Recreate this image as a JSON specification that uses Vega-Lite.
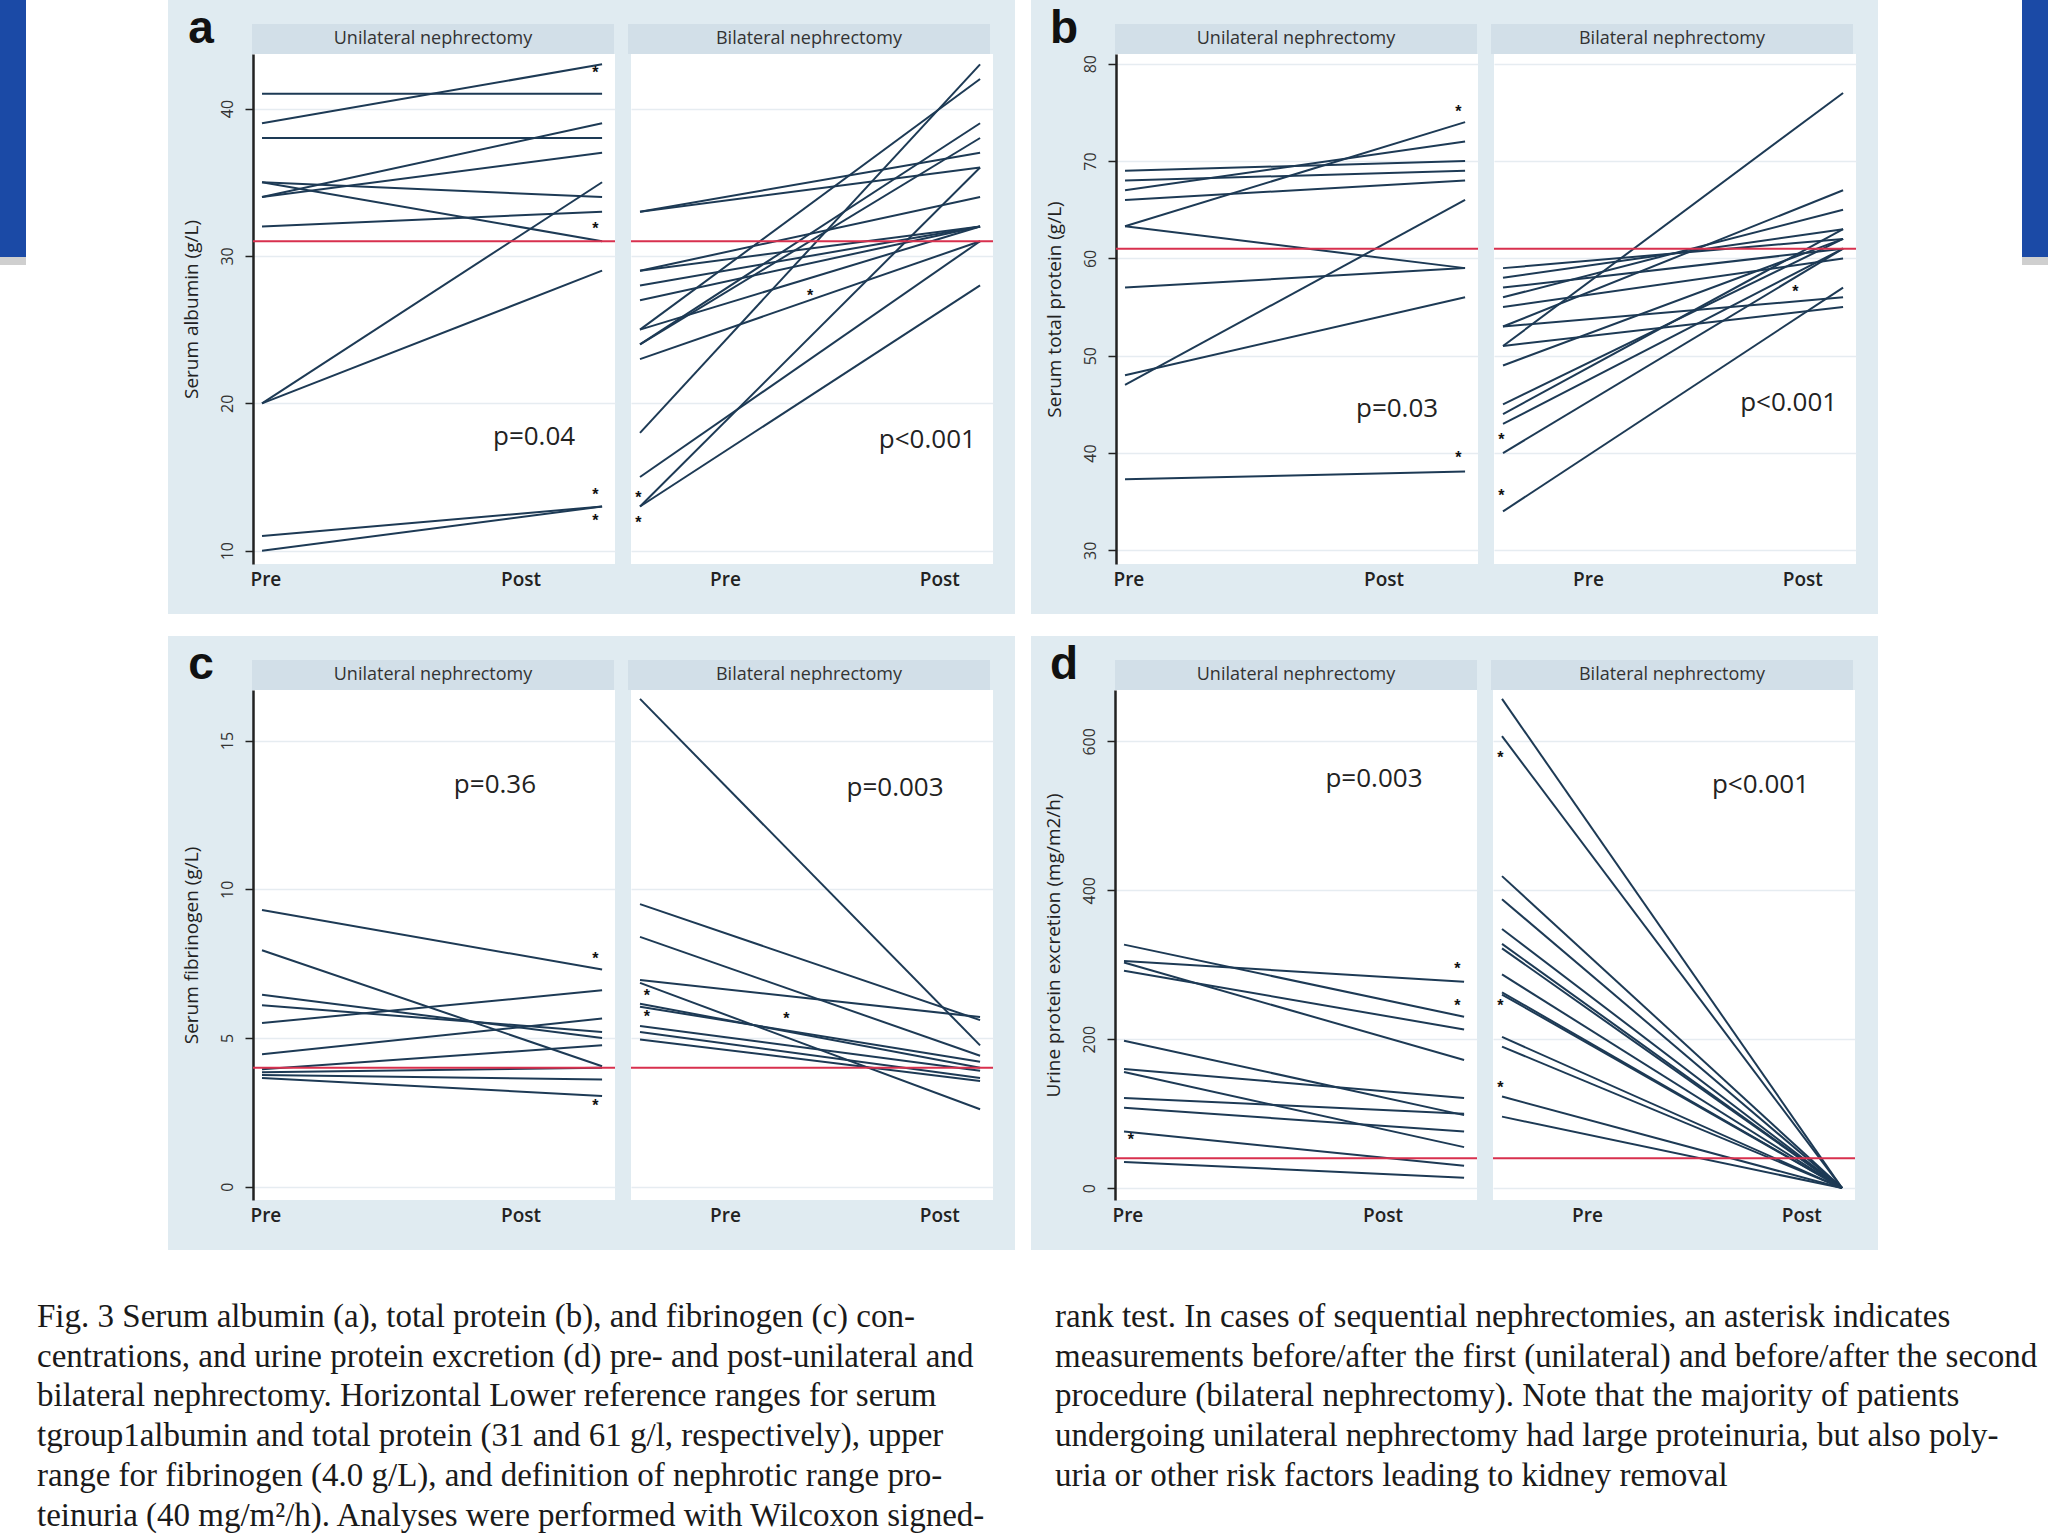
{
  "$schema": "https://vega.github.io/schema/vega-lite/v6.json",
  "background": "#e0ebf1",
  "padding": 0,
  "spacing": 0,
  "config": {
    "view": {"stroke": null},
    "axis": {"labelFont": "Open Sans", "titleFont": "Open Sans"}
  },
  "vconcat": [
    {
      "hconcat": [
        {
          "hconcat": [
            {"vconcat": [
              {"width": 26, "height": 257, "data": {"values": [{}]}, "mark": {"type": "text", "text": "", "fontSize": 1}, "view": {"fill": "#1b4aa6", "stroke": null}},
              {"width": 26, "height": 8, "data": {"values": [{}]}, "mark": {"type": "text", "text": "", "fontSize": 1}, "view": {"fill": "#cfcfcf", "stroke": null}},
              {"width": 26, "height": 985, "data": {"values": [{}]}, "mark": {"type": "text", "text": "", "fontSize": 1}, "view": {"fill": "#ffffff", "stroke": null}}
            ], "spacing": 0},
            {"width": 142, "height": 1250, "data": {"values": [{}]}, "mark": {"type": "text", "text": "", "fontSize": 1}, "view": {"fill": "#ffffff", "stroke": null}}
          ], "spacing": 0
        },
        {
          "vconcat": [
            {
              "hconcat": [
                {
                  "vconcat": [
                    {"hconcat": [
                      {"width": 84, "height": 54, "data": {"values": [{"letter": "a"}]}, "mark": {"type": "text", "font": "Liberation Sans", "fontSize": 46, "fontWeight": "bold", "color": "#111111", "align": "center", "baseline": "middle", "dx": -9, "dy": 2}, "encoding": {"text": {"field": "letter"}}},
                      {"vconcat": [
                        {"width": 763, "height": 24, "data": {"values": [{}]}, "mark": {"type": "text", "text": "", "fontSize": 1}},
                        {"hconcat": [
                          {"width": 362, "height": 30, "data": {"values": [{"label": "Unilateral nephrectomy"}]}, "mark": {"type": "text", "font": "Open Sans", "fontSize": 18, "color": "#333333", "align": "center", "baseline": "middle"}, "encoding": {"text": {"field": "label"}}, "view": {"fill": "#d2dfe8", "stroke": null}},
                          {"width": 362, "height": 30, "data": {"values": [{"label": "Bilateral nephrectomy"}]}, "mark": {"type": "text", "font": "Open Sans", "fontSize": 18, "color": "#333333", "align": "center", "baseline": "middle"}, "encoding": {"text": {"field": "label"}}, "view": {"fill": "#d2dfe8", "stroke": null}}
                        ], "spacing": 14}
                      ], "spacing": 0}
                    ], "spacing": 0},
                    {"hconcat": [
                      {"width": 13, "height": 510, "data": {"values": [{}]}, "mark": {"type": "text", "text": "", "fontSize": 1}},
                      {"hconcat": [
                        {
                          "width": 362, "height": 510,
                          "view": {"fill": "#ffffff", "stroke": null},
                          "encoding": {"y": {"field": "v", "type": "quantitative", "scale": {"domain": [9.1, 43.7], "nice": false, "zero": false},
                            "axis": {"values": [10, 20, 30, 40], "title": "Serum albumin (g/L)", "grid": true, "gridColor": "#e6ecf1", "gridWidth": 1.5, "domainColor": "#222222", "domainWidth": 2.5, "tickColor": "#222222", "tickSize": 8, "tickWidth": 1.5, "labelAngle": 270, "labelFontSize": 16, "labelColor": "#333333", "labelPadding": 10, "labelFlush": false, "titleFontSize": 19, "titleFontWeight": "normal", "titleColor": "#222222", "titlePadding": 18}}},
                          "layer": [
                            {"data": {"values": [
                              {"id": 1, "t": 0, "v": 39}, {"id": 1, "t": 1, "v": 43},
                              {"id": 2, "t": 0, "v": 41}, {"id": 2, "t": 1, "v": 41},
                              {"id": 3, "t": 0, "v": 38}, {"id": 3, "t": 1, "v": 38},
                              {"id": 4, "t": 0, "v": 35}, {"id": 4, "t": 1, "v": 34},
                              {"id": 5, "t": 0, "v": 35}, {"id": 5, "t": 1, "v": 31},
                              {"id": 6, "t": 0, "v": 34}, {"id": 6, "t": 1, "v": 39},
                              {"id": 7, "t": 0, "v": 34}, {"id": 7, "t": 1, "v": 37},
                              {"id": 8, "t": 0, "v": 32}, {"id": 8, "t": 1, "v": 33},
                              {"id": 9, "t": 0, "v": 20}, {"id": 9, "t": 1, "v": 35},
                              {"id": 10, "t": 0, "v": 20}, {"id": 10, "t": 1, "v": 29},
                              {"id": 11, "t": 0, "v": 11}, {"id": 11, "t": 1, "v": 13},
                              {"id": 12, "t": 0, "v": 10}, {"id": 12, "t": 1, "v": 13}
                            ]},
                             "mark": {"type": "line", "color": "#1d3a55", "strokeWidth": 2},
                             "encoding": {"x": {"field": "t", "type": "quantitative", "scale": {"domain": [-0.0265, 1.038], "nice": false, "zero": false}, "axis": {"values": [0.01, 0.76], "labelExpr": "datum.value < 0.5 ? 'Pre' : 'Post'", "title": null, "domain": false, "ticks": false, "grid": false, "labelFlush": false, "labelFontSize": 19, "labelFontWeight": 600, "labelColor": "#222222", "labelPadding": 6}}, "detail": {"field": "id"}}},
                            {"data": {"values": [{"v": 31}]}, "mark": {"type": "rule", "color": "#d8304e", "strokeWidth": 2}, "encoding": {}},
                            {"data": {"values": [{"t": 0.98, "v": 42.4}, {"t": 0.98, "v": 31.8}, {"t": 0.98, "v": 13.8}, {"t": 0.98, "v": 12.0}]},
                             "mark": {"type": "text", "text": "*", "fontSize": 16, "fontWeight": "bold", "color": "#111111", "baseline": "middle"},
                             "encoding": {"x": {"field": "t", "type": "quantitative", "scale": {"domain": [-0.0265, 1.038], "nice": false, "zero": false}, "axis": {"values": [0.01, 0.76], "labelExpr": "datum.value < 0.5 ? 'Pre' : 'Post'", "title": null, "domain": false, "ticks": false, "grid": false, "labelFlush": false, "labelFontSize": 19, "labelFontWeight": 600, "labelColor": "#222222", "labelPadding": 6}}}},
                            {"data": {"values": [{"t": 0.8, "v": 17.7, "label": "p=0.04"}]},
                             "mark": {"type": "text", "font": "Open Sans", "fontSize": 26, "color": "#222222", "baseline": "middle"},
                             "encoding": {"x": {"field": "t", "type": "quantitative", "scale": {"domain": [-0.0265, 1.038], "nice": false, "zero": false}, "axis": {"values": [0.01, 0.76], "labelExpr": "datum.value < 0.5 ? 'Pre' : 'Post'", "title": null, "domain": false, "ticks": false, "grid": false, "labelFlush": false, "labelFontSize": 19, "labelFontWeight": 600, "labelColor": "#222222", "labelPadding": 6}}, "text": {"field": "label"}}}
                          ]
                        },
                        {
                          "width": 362, "height": 510,
                          "view": {"fill": "#ffffff", "stroke": null},
                          "encoding": {"y": {"field": "v", "type": "quantitative", "scale": {"domain": [9.1, 43.7], "nice": false, "zero": false},
                            "axis": {"values": [10, 20, 30, 40], "title": null, "grid": true, "gridColor": "#e6ecf1", "gridWidth": 1.5, "domain": false, "ticks": false, "labels": false}}},
                          "layer": [
                            {"data": {"values": [
                              {"id": 1, "t": 0, "v": 33}, {"id": 1, "t": 1, "v": 37},
                              {"id": 2, "t": 0, "v": 33}, {"id": 2, "t": 1, "v": 36},
                              {"id": 3, "t": 0, "v": 29}, {"id": 3, "t": 1, "v": 34},
                              {"id": 4, "t": 0, "v": 29}, {"id": 4, "t": 1, "v": 32},
                              {"id": 5, "t": 0, "v": 28}, {"id": 5, "t": 1, "v": 32},
                              {"id": 6, "t": 0, "v": 27}, {"id": 6, "t": 1, "v": 32},
                              {"id": 7, "t": 0, "v": 25}, {"id": 7, "t": 1, "v": 42},
                              {"id": 8, "t": 0, "v": 25}, {"id": 8, "t": 1, "v": 32},
                              {"id": 9, "t": 0, "v": 24}, {"id": 9, "t": 1, "v": 39},
                              {"id": 10, "t": 0, "v": 24}, {"id": 10, "t": 1, "v": 38},
                              {"id": 11, "t": 0, "v": 23}, {"id": 11, "t": 1, "v": 31},
                              {"id": 12, "t": 0, "v": 18}, {"id": 12, "t": 1, "v": 43},
                              {"id": 13, "t": 0, "v": 15}, {"id": 13, "t": 1, "v": 31},
                              {"id": 14, "t": 0, "v": 13}, {"id": 14, "t": 1, "v": 36},
                              {"id": 15, "t": 0, "v": 13}, {"id": 15, "t": 1, "v": 28}
                            ]},
                             "mark": {"type": "line", "color": "#1d3a55", "strokeWidth": 2},
                             "encoding": {"x": {"field": "t", "type": "quantitative", "scale": {"domain": [-0.0265, 1.038], "nice": false, "zero": false}, "axis": {"values": [0.25, 0.88], "labelExpr": "datum.value < 0.5 ? 'Pre' : 'Post'", "title": null, "domain": false, "ticks": false, "grid": false, "labelFlush": false, "labelFontSize": 19, "labelFontWeight": 600, "labelColor": "#222222", "labelPadding": 6}}, "detail": {"field": "id"}}},
                            {"data": {"values": [{"v": 31}]}, "mark": {"type": "rule", "color": "#d8304e", "strokeWidth": 2}, "encoding": {}},
                            {"data": {"values": [{"t": -0.005, "v": 13.6}, {"t": -0.005, "v": 11.9}, {"t": 0.5, "v": 27.3}]},
                             "mark": {"type": "text", "text": "*", "fontSize": 16, "fontWeight": "bold", "color": "#111111", "baseline": "middle"},
                             "encoding": {"x": {"field": "t", "type": "quantitative", "scale": {"domain": [-0.0265, 1.038], "nice": false, "zero": false}, "axis": {"values": [0.25, 0.88], "labelExpr": "datum.value < 0.5 ? 'Pre' : 'Post'", "title": null, "domain": false, "ticks": false, "grid": false, "labelFlush": false, "labelFontSize": 19, "labelFontWeight": 600, "labelColor": "#222222", "labelPadding": 6}}}},
                            {"data": {"values": [{"t": 0.845, "v": 17.5, "label": "p<0.001"}]},
                             "mark": {"type": "text", "font": "Open Sans", "fontSize": 26, "color": "#222222", "baseline": "middle"},
                             "encoding": {"x": {"field": "t", "type": "quantitative", "scale": {"domain": [-0.0265, 1.038], "nice": false, "zero": false}, "axis": {"values": [0.25, 0.88], "labelExpr": "datum.value < 0.5 ? 'Pre' : 'Post'", "title": null, "domain": false, "ticks": false, "grid": false, "labelFlush": false, "labelFontSize": 19, "labelFontWeight": 600, "labelColor": "#222222", "labelPadding": 6}}, "text": {"field": "label"}}}
                          ]
                        }
                      ], "spacing": 14}
                    ], "spacing": 0}
                  ], "spacing": 0
                },
                {"width": 16, "height": 614, "data": {"values": [{}]}, "mark": {"type": "text", "text": "", "fontSize": 1}, "view": {"fill": "#ffffff", "stroke": null}},
                {
                  "vconcat": [
                    {"hconcat": [
                      {"width": 84, "height": 54, "data": {"values": [{"letter": "b"}]}, "mark": {"type": "text", "font": "Liberation Sans", "fontSize": 46, "fontWeight": "bold", "color": "#111111", "align": "center", "baseline": "middle", "dx": -9, "dy": 2}, "encoding": {"text": {"field": "letter"}}},
                      {"vconcat": [
                        {"width": 763, "height": 24, "data": {"values": [{}]}, "mark": {"type": "text", "text": "", "fontSize": 1}},
                        {"hconcat": [
                          {"width": 362, "height": 30, "data": {"values": [{"label": "Unilateral nephrectomy"}]}, "mark": {"type": "text", "font": "Open Sans", "fontSize": 18, "color": "#333333", "align": "center", "baseline": "middle"}, "encoding": {"text": {"field": "label"}}, "view": {"fill": "#d2dfe8", "stroke": null}},
                          {"width": 362, "height": 30, "data": {"values": [{"label": "Bilateral nephrectomy"}]}, "mark": {"type": "text", "font": "Open Sans", "fontSize": 18, "color": "#333333", "align": "center", "baseline": "middle"}, "encoding": {"text": {"field": "label"}}, "view": {"fill": "#d2dfe8", "stroke": null}}
                        ], "spacing": 14}
                      ], "spacing": 0}
                    ], "spacing": 0},
                    {"hconcat": [
                      {"width": 13, "height": 510, "data": {"values": [{}]}, "mark": {"type": "text", "text": "", "fontSize": 1}},
                      {"hconcat": [
                        {
                          "width": 362, "height": 510,
                          "view": {"fill": "#ffffff", "stroke": null},
                          "encoding": {"y": {"field": "v", "type": "quantitative", "scale": {"domain": [28.6, 81.0], "nice": false, "zero": false},
                            "axis": {"values": [30, 40, 50, 60, 70, 80], "title": "Serum total protein (g/L)", "grid": true, "gridColor": "#e6ecf1", "gridWidth": 1.5, "domainColor": "#222222", "domainWidth": 2.5, "tickColor": "#222222", "tickSize": 8, "tickWidth": 1.5, "labelAngle": 270, "labelFontSize": 16, "labelColor": "#333333", "labelPadding": 10, "labelFlush": false, "titleFontSize": 19, "titleFontWeight": "normal", "titleColor": "#222222", "titlePadding": 18}}},
                          "layer": [
                            {"data": {"values": [
                              {"id": 1, "t": 0, "v": 69}, {"id": 1, "t": 1, "v": 70},
                              {"id": 2, "t": 0, "v": 68}, {"id": 2, "t": 1, "v": 69},
                              {"id": 3, "t": 0, "v": 67}, {"id": 3, "t": 1, "v": 72},
                              {"id": 4, "t": 0, "v": 66}, {"id": 4, "t": 1, "v": 68},
                              {"id": 5, "t": 0, "v": 63.3}, {"id": 5, "t": 1, "v": 74},
                              {"id": 6, "t": 0, "v": 63.3}, {"id": 6, "t": 1, "v": 59},
                              {"id": 7, "t": 0, "v": 57}, {"id": 7, "t": 1, "v": 59},
                              {"id": 8, "t": 0, "v": 48}, {"id": 8, "t": 1, "v": 56},
                              {"id": 9, "t": 0, "v": 47}, {"id": 9, "t": 1, "v": 66},
                              {"id": 10, "t": 0, "v": 37.3}, {"id": 10, "t": 1, "v": 38.1}
                            ]},
                             "mark": {"type": "line", "color": "#1d3a55", "strokeWidth": 2},
                             "encoding": {"x": {"field": "t", "type": "quantitative", "scale": {"domain": [-0.0265, 1.038], "nice": false, "zero": false}, "axis": {"values": [0.01, 0.76], "labelExpr": "datum.value < 0.5 ? 'Pre' : 'Post'", "title": null, "domain": false, "ticks": false, "grid": false, "labelFlush": false, "labelFontSize": 19, "labelFontWeight": 600, "labelColor": "#222222", "labelPadding": 6}}, "detail": {"field": "id"}}},
                            {"data": {"values": [{"v": 61}]}, "mark": {"type": "rule", "color": "#d8304e", "strokeWidth": 2}, "encoding": {}},
                            {"data": {"values": [{"t": 0.98, "v": 75.0}, {"t": 0.98, "v": 39.5}]},
                             "mark": {"type": "text", "text": "*", "fontSize": 16, "fontWeight": "bold", "color": "#111111", "baseline": "middle"},
                             "encoding": {"x": {"field": "t", "type": "quantitative", "scale": {"domain": [-0.0265, 1.038], "nice": false, "zero": false}, "axis": {"values": [0.01, 0.76], "labelExpr": "datum.value < 0.5 ? 'Pre' : 'Post'", "title": null, "domain": false, "ticks": false, "grid": false, "labelFlush": false, "labelFontSize": 19, "labelFontWeight": 600, "labelColor": "#222222", "labelPadding": 6}}}},
                            {"data": {"values": [{"t": 0.8, "v": 44.5, "label": "p=0.03"}]},
                             "mark": {"type": "text", "font": "Open Sans", "fontSize": 26, "color": "#222222", "baseline": "middle"},
                             "encoding": {"x": {"field": "t", "type": "quantitative", "scale": {"domain": [-0.0265, 1.038], "nice": false, "zero": false}, "axis": {"values": [0.01, 0.76], "labelExpr": "datum.value < 0.5 ? 'Pre' : 'Post'", "title": null, "domain": false, "ticks": false, "grid": false, "labelFlush": false, "labelFontSize": 19, "labelFontWeight": 600, "labelColor": "#222222", "labelPadding": 6}}, "text": {"field": "label"}}}
                          ]
                        },
                        {
                          "width": 362, "height": 510,
                          "view": {"fill": "#ffffff", "stroke": null},
                          "encoding": {"y": {"field": "v", "type": "quantitative", "scale": {"domain": [28.6, 81.0], "nice": false, "zero": false},
                            "axis": {"values": [30, 40, 50, 60, 70, 80], "title": null, "grid": true, "gridColor": "#e6ecf1", "gridWidth": 1.5, "domain": false, "ticks": false, "labels": false}}},
                          "layer": [
                            {"data": {"values": [
                              {"id": 1, "t": 0, "v": 59}, {"id": 1, "t": 1, "v": 62},
                              {"id": 2, "t": 0, "v": 58}, {"id": 2, "t": 1, "v": 63},
                              {"id": 3, "t": 0, "v": 57}, {"id": 3, "t": 1, "v": 61},
                              {"id": 4, "t": 0, "v": 56}, {"id": 4, "t": 1, "v": 65},
                              {"id": 5, "t": 0, "v": 55}, {"id": 5, "t": 1, "v": 60},
                              {"id": 6, "t": 0, "v": 53}, {"id": 6, "t": 1, "v": 56},
                              {"id": 7, "t": 0, "v": 53}, {"id": 7, "t": 1, "v": 67},
                              {"id": 8, "t": 0, "v": 51}, {"id": 8, "t": 1, "v": 77},
                              {"id": 9, "t": 0, "v": 51}, {"id": 9, "t": 1, "v": 55},
                              {"id": 10, "t": 0, "v": 49}, {"id": 10, "t": 1, "v": 62},
                              {"id": 11, "t": 0, "v": 45}, {"id": 11, "t": 1, "v": 62},
                              {"id": 12, "t": 0, "v": 44}, {"id": 12, "t": 1, "v": 63},
                              {"id": 13, "t": 0, "v": 43}, {"id": 13, "t": 1, "v": 61},
                              {"id": 14, "t": 0, "v": 40}, {"id": 14, "t": 1, "v": 61},
                              {"id": 15, "t": 0, "v": 34}, {"id": 15, "t": 1, "v": 57}
                            ]},
                             "mark": {"type": "line", "color": "#1d3a55", "strokeWidth": 2},
                             "encoding": {"x": {"field": "t", "type": "quantitative", "scale": {"domain": [-0.0265, 1.038], "nice": false, "zero": false}, "axis": {"values": [0.25, 0.88], "labelExpr": "datum.value < 0.5 ? 'Pre' : 'Post'", "title": null, "domain": false, "ticks": false, "grid": false, "labelFlush": false, "labelFontSize": 19, "labelFontWeight": 600, "labelColor": "#222222", "labelPadding": 6}}, "detail": {"field": "id"}}},
                            {"data": {"values": [{"v": 61}]}, "mark": {"type": "rule", "color": "#d8304e", "strokeWidth": 2}, "encoding": {}},
                            {"data": {"values": [{"t": -0.005, "v": 41.3}, {"t": -0.005, "v": 35.6}, {"t": 0.86, "v": 56.5}]},
                             "mark": {"type": "text", "text": "*", "fontSize": 16, "fontWeight": "bold", "color": "#111111", "baseline": "middle"},
                             "encoding": {"x": {"field": "t", "type": "quantitative", "scale": {"domain": [-0.0265, 1.038], "nice": false, "zero": false}, "axis": {"values": [0.25, 0.88], "labelExpr": "datum.value < 0.5 ? 'Pre' : 'Post'", "title": null, "domain": false, "ticks": false, "grid": false, "labelFlush": false, "labelFontSize": 19, "labelFontWeight": 600, "labelColor": "#222222", "labelPadding": 6}}}},
                            {"data": {"values": [{"t": 0.84, "v": 45.1, "label": "p<0.001"}]},
                             "mark": {"type": "text", "font": "Open Sans", "fontSize": 26, "color": "#222222", "baseline": "middle"},
                             "encoding": {"x": {"field": "t", "type": "quantitative", "scale": {"domain": [-0.0265, 1.038], "nice": false, "zero": false}, "axis": {"values": [0.25, 0.88], "labelExpr": "datum.value < 0.5 ? 'Pre' : 'Post'", "title": null, "domain": false, "ticks": false, "grid": false, "labelFlush": false, "labelFontSize": 19, "labelFontWeight": 600, "labelColor": "#222222", "labelPadding": 6}}, "text": {"field": "label"}}}
                          ]
                        }
                      ], "spacing": 14}
                    ], "spacing": 0}
                  ], "spacing": 0
                }
              ], "spacing": 0
            },
            {"width": 1710, "height": 22, "data": {"values": [{}]}, "mark": {"type": "text", "text": "", "fontSize": 1}, "view": {"fill": "#ffffff", "stroke": null}},
            {
              "hconcat": [
                {
                  "vconcat": [
                    {"hconcat": [
                      {"width": 84, "height": 54, "data": {"values": [{"letter": "c"}]}, "mark": {"type": "text", "font": "Liberation Sans", "fontSize": 46, "fontWeight": "bold", "color": "#111111", "align": "center", "baseline": "middle", "dx": -9, "dy": 2}, "encoding": {"text": {"field": "letter"}}},
                      {"vconcat": [
                        {"width": 763, "height": 24, "data": {"values": [{}]}, "mark": {"type": "text", "text": "", "fontSize": 1}},
                        {"hconcat": [
                          {"width": 362, "height": 30, "data": {"values": [{"label": "Unilateral nephrectomy"}]}, "mark": {"type": "text", "font": "Open Sans", "fontSize": 18, "color": "#333333", "align": "center", "baseline": "middle"}, "encoding": {"text": {"field": "label"}}, "view": {"fill": "#d2dfe8", "stroke": null}},
                          {"width": 362, "height": 30, "data": {"values": [{"label": "Bilateral nephrectomy"}]}, "mark": {"type": "text", "font": "Open Sans", "fontSize": 18, "color": "#333333", "align": "center", "baseline": "middle"}, "encoding": {"text": {"field": "label"}}, "view": {"fill": "#d2dfe8", "stroke": null}}
                        ], "spacing": 14}
                      ], "spacing": 0}
                    ], "spacing": 0},
                    {"hconcat": [
                      {"width": 13, "height": 510, "data": {"values": [{}]}, "mark": {"type": "text", "text": "", "fontSize": 1}},
                      {"hconcat": [
                        {
                          "width": 362, "height": 510,
                          "view": {"fill": "#ffffff", "stroke": null},
                          "encoding": {"y": {"field": "v", "type": "quantitative", "scale": {"domain": [-0.45, 16.7], "nice": false, "zero": false},
                            "axis": {"values": [0, 5, 10, 15], "title": "Serum fibrinogen (g/L)", "grid": true, "gridColor": "#e6ecf1", "gridWidth": 1.5, "domainColor": "#222222", "domainWidth": 2.5, "tickColor": "#222222", "tickSize": 8, "tickWidth": 1.5, "labelAngle": 270, "labelFontSize": 16, "labelColor": "#333333", "labelPadding": 10, "labelFlush": false, "titleFontSize": 19, "titleFontWeight": "normal", "titleColor": "#222222", "titlePadding": 18}}},
                          "layer": [
                            {"data": {"values": [
                              {"id": 1, "t": 0, "v": 9.3}, {"id": 1, "t": 1, "v": 7.3},
                              {"id": 2, "t": 0, "v": 7.95}, {"id": 2, "t": 1, "v": 4.05},
                              {"id": 3, "t": 0, "v": 6.45}, {"id": 3, "t": 1, "v": 5.0},
                              {"id": 4, "t": 0, "v": 6.1}, {"id": 4, "t": 1, "v": 5.2},
                              {"id": 5, "t": 0, "v": 5.5}, {"id": 5, "t": 1, "v": 6.6},
                              {"id": 6, "t": 0, "v": 4.45}, {"id": 6, "t": 1, "v": 5.65},
                              {"id": 7, "t": 0, "v": 3.95}, {"id": 7, "t": 1, "v": 4.75},
                              {"id": 8, "t": 0, "v": 3.85}, {"id": 8, "t": 1, "v": 4.0},
                              {"id": 9, "t": 0, "v": 3.75}, {"id": 9, "t": 1, "v": 3.6},
                              {"id": 10, "t": 0, "v": 3.65}, {"id": 10, "t": 1, "v": 3.05}
                            ]},
                             "mark": {"type": "line", "color": "#1d3a55", "strokeWidth": 2},
                             "encoding": {"x": {"field": "t", "type": "quantitative", "scale": {"domain": [-0.0265, 1.038], "nice": false, "zero": false}, "axis": {"values": [0.01, 0.76], "labelExpr": "datum.value < 0.5 ? 'Pre' : 'Post'", "title": null, "domain": false, "ticks": false, "grid": false, "labelFlush": false, "labelFontSize": 19, "labelFontWeight": 600, "labelColor": "#222222", "labelPadding": 6}}, "detail": {"field": "id"}}},
                            {"data": {"values": [{"v": 4}]}, "mark": {"type": "rule", "color": "#d8304e", "strokeWidth": 2}, "encoding": {}},
                            {"data": {"values": [{"t": 0.98, "v": 7.65}, {"t": 0.98, "v": 2.7}]},
                             "mark": {"type": "text", "text": "*", "fontSize": 16, "fontWeight": "bold", "color": "#111111", "baseline": "middle"},
                             "encoding": {"x": {"field": "t", "type": "quantitative", "scale": {"domain": [-0.0265, 1.038], "nice": false, "zero": false}, "axis": {"values": [0.01, 0.76], "labelExpr": "datum.value < 0.5 ? 'Pre' : 'Post'", "title": null, "domain": false, "ticks": false, "grid": false, "labelFlush": false, "labelFontSize": 19, "labelFontWeight": 600, "labelColor": "#222222", "labelPadding": 6}}}},
                            {"data": {"values": [{"t": 0.685, "v": 13.5, "label": "p=0.36"}]},
                             "mark": {"type": "text", "font": "Open Sans", "fontSize": 26, "color": "#222222", "baseline": "middle"},
                             "encoding": {"x": {"field": "t", "type": "quantitative", "scale": {"domain": [-0.0265, 1.038], "nice": false, "zero": false}, "axis": {"values": [0.01, 0.76], "labelExpr": "datum.value < 0.5 ? 'Pre' : 'Post'", "title": null, "domain": false, "ticks": false, "grid": false, "labelFlush": false, "labelFontSize": 19, "labelFontWeight": 600, "labelColor": "#222222", "labelPadding": 6}}, "text": {"field": "label"}}}
                          ]
                        },
                        {
                          "width": 362, "height": 510,
                          "view": {"fill": "#ffffff", "stroke": null},
                          "encoding": {"y": {"field": "v", "type": "quantitative", "scale": {"domain": [-0.45, 16.7], "nice": false, "zero": false},
                            "axis": {"values": [0, 5, 10, 15], "title": null, "grid": true, "gridColor": "#e6ecf1", "gridWidth": 1.5, "domain": false, "ticks": false, "labels": false}}},
                          "layer": [
                            {"data": {"values": [
                              {"id": 1, "t": 0, "v": 16.4}, {"id": 1, "t": 1, "v": 4.75},
                              {"id": 2, "t": 0, "v": 9.5}, {"id": 2, "t": 1, "v": 5.6},
                              {"id": 3, "t": 0, "v": 8.4}, {"id": 3, "t": 1, "v": 4.4},
                              {"id": 4, "t": 0, "v": 6.95}, {"id": 4, "t": 1, "v": 5.7},
                              {"id": 5, "t": 0, "v": 6.85}, {"id": 5, "t": 1, "v": 2.6},
                              {"id": 6, "t": 0, "v": 6.15}, {"id": 6, "t": 1, "v": 4.0},
                              {"id": 7, "t": 0, "v": 6.05}, {"id": 7, "t": 1, "v": 4.2},
                              {"id": 8, "t": 0, "v": 5.4}, {"id": 8, "t": 1, "v": 3.9},
                              {"id": 9, "t": 0, "v": 5.2}, {"id": 9, "t": 1, "v": 3.65},
                              {"id": 10, "t": 0, "v": 4.95}, {"id": 10, "t": 1, "v": 3.55}
                            ]},
                             "mark": {"type": "line", "color": "#1d3a55", "strokeWidth": 2},
                             "encoding": {"x": {"field": "t", "type": "quantitative", "scale": {"domain": [-0.0265, 1.038], "nice": false, "zero": false}, "axis": {"values": [0.25, 0.88], "labelExpr": "datum.value < 0.5 ? 'Pre' : 'Post'", "title": null, "domain": false, "ticks": false, "grid": false, "labelFlush": false, "labelFontSize": 19, "labelFontWeight": 600, "labelColor": "#222222", "labelPadding": 6}}, "detail": {"field": "id"}}},
                            {"data": {"values": [{"v": 4}]}, "mark": {"type": "rule", "color": "#d8304e", "strokeWidth": 2}, "encoding": {}},
                            {"data": {"values": [{"t": 0.02, "v": 6.4}, {"t": 0.02, "v": 5.7}, {"t": 0.43, "v": 5.65}]},
                             "mark": {"type": "text", "text": "*", "fontSize": 16, "fontWeight": "bold", "color": "#111111", "baseline": "middle"},
                             "encoding": {"x": {"field": "t", "type": "quantitative", "scale": {"domain": [-0.0265, 1.038], "nice": false, "zero": false}, "axis": {"values": [0.25, 0.88], "labelExpr": "datum.value < 0.5 ? 'Pre' : 'Post'", "title": null, "domain": false, "ticks": false, "grid": false, "labelFlush": false, "labelFontSize": 19, "labelFontWeight": 600, "labelColor": "#222222", "labelPadding": 6}}}},
                            {"data": {"values": [{"t": 0.75, "v": 13.4, "label": "p=0.003"}]},
                             "mark": {"type": "text", "font": "Open Sans", "fontSize": 26, "color": "#222222", "baseline": "middle"},
                             "encoding": {"x": {"field": "t", "type": "quantitative", "scale": {"domain": [-0.0265, 1.038], "nice": false, "zero": false}, "axis": {"values": [0.25, 0.88], "labelExpr": "datum.value < 0.5 ? 'Pre' : 'Post'", "title": null, "domain": false, "ticks": false, "grid": false, "labelFlush": false, "labelFontSize": 19, "labelFontWeight": 600, "labelColor": "#222222", "labelPadding": 6}}, "text": {"field": "label"}}}
                          ]
                        }
                      ], "spacing": 14}
                    ], "spacing": 0}
                  ], "spacing": 0
                },
                {"width": 16, "height": 614, "data": {"values": [{}]}, "mark": {"type": "text", "text": "", "fontSize": 1}, "view": {"fill": "#ffffff", "stroke": null}},
                {
                  "vconcat": [
                    {"hconcat": [
                      {"width": 84, "height": 54, "data": {"values": [{"letter": "d"}]}, "mark": {"type": "text", "font": "Liberation Sans", "fontSize": 46, "fontWeight": "bold", "color": "#111111", "align": "center", "baseline": "middle", "dx": -9, "dy": 2}, "encoding": {"text": {"field": "letter"}}},
                      {"vconcat": [
                        {"width": 763, "height": 24, "data": {"values": [{}]}, "mark": {"type": "text", "text": "", "fontSize": 1}},
                        {"hconcat": [
                          {"width": 362, "height": 30, "data": {"values": [{"label": "Unilateral nephrectomy"}]}, "mark": {"type": "text", "font": "Open Sans", "fontSize": 18, "color": "#333333", "align": "center", "baseline": "middle"}, "encoding": {"text": {"field": "label"}}, "view": {"fill": "#d2dfe8", "stroke": null}},
                          {"width": 362, "height": 30, "data": {"values": [{"label": "Bilateral nephrectomy"}]}, "mark": {"type": "text", "font": "Open Sans", "fontSize": 18, "color": "#333333", "align": "center", "baseline": "middle"}, "encoding": {"text": {"field": "label"}}, "view": {"fill": "#d2dfe8", "stroke": null}}
                        ], "spacing": 14}
                      ], "spacing": 0}
                    ], "spacing": 0},
                    {"hconcat": [
                      {"width": 13, "height": 510, "data": {"values": [{}]}, "mark": {"type": "text", "text": "", "fontSize": 1}},
                      {"hconcat": [
                        {
                          "width": 362, "height": 510,
                          "view": {"fill": "#ffffff", "stroke": null},
                          "encoding": {"y": {"field": "v", "type": "quantitative", "scale": {"domain": [-16, 669], "nice": false, "zero": false},
                            "axis": {"values": [0, 200, 400, 600], "title": "Urine protein excretion (mg/m2/h)", "grid": true, "gridColor": "#e6ecf1", "gridWidth": 1.5, "domainColor": "#222222", "domainWidth": 2.5, "tickColor": "#222222", "tickSize": 8, "tickWidth": 1.5, "labelAngle": 270, "labelFontSize": 16, "labelColor": "#333333", "labelPadding": 10, "labelFlush": false, "titleFontSize": 19, "titleFontWeight": "normal", "titleColor": "#222222", "titlePadding": 18}}},
                          "layer": [
                            {"data": {"values": [
                              {"id": 1, "t": 0, "v": 327}, {"id": 1, "t": 1, "v": 230},
                              {"id": 2, "t": 0, "v": 305}, {"id": 2, "t": 1, "v": 277},
                              {"id": 3, "t": 0, "v": 303}, {"id": 3, "t": 1, "v": 172},
                              {"id": 4, "t": 0, "v": 292}, {"id": 4, "t": 1, "v": 213},
                              {"id": 5, "t": 0, "v": 198}, {"id": 5, "t": 1, "v": 98},
                              {"id": 6, "t": 0, "v": 160}, {"id": 6, "t": 1, "v": 121},
                              {"id": 7, "t": 0, "v": 156}, {"id": 7, "t": 1, "v": 55},
                              {"id": 8, "t": 0, "v": 121}, {"id": 8, "t": 1, "v": 100},
                              {"id": 9, "t": 0, "v": 108}, {"id": 9, "t": 1, "v": 76},
                              {"id": 10, "t": 0, "v": 76}, {"id": 10, "t": 1, "v": 30},
                              {"id": 11, "t": 0, "v": 35}, {"id": 11, "t": 1, "v": 14}
                            ]},
                             "mark": {"type": "line", "color": "#1d3a55", "strokeWidth": 2},
                             "encoding": {"x": {"field": "t", "type": "quantitative", "scale": {"domain": [-0.0265, 1.038], "nice": false, "zero": false}, "axis": {"values": [0.01, 0.76], "labelExpr": "datum.value < 0.5 ? 'Pre' : 'Post'", "title": null, "domain": false, "ticks": false, "grid": false, "labelFlush": false, "labelFontSize": 19, "labelFontWeight": 600, "labelColor": "#222222", "labelPadding": 6}}, "detail": {"field": "id"}}},
                            {"data": {"values": [{"v": 40}]}, "mark": {"type": "rule", "color": "#d8304e", "strokeWidth": 2}, "encoding": {}},
                            {"data": {"values": [{"t": 0.98, "v": 294}, {"t": 0.98, "v": 245}, {"t": 0.02, "v": 64}]},
                             "mark": {"type": "text", "text": "*", "fontSize": 16, "fontWeight": "bold", "color": "#111111", "baseline": "middle"},
                             "encoding": {"x": {"field": "t", "type": "quantitative", "scale": {"domain": [-0.0265, 1.038], "nice": false, "zero": false}, "axis": {"values": [0.01, 0.76], "labelExpr": "datum.value < 0.5 ? 'Pre' : 'Post'", "title": null, "domain": false, "ticks": false, "grid": false, "labelFlush": false, "labelFontSize": 19, "labelFontWeight": 600, "labelColor": "#222222", "labelPadding": 6}}}},
                            {"data": {"values": [{"t": 0.735, "v": 550, "label": "p=0.003"}]},
                             "mark": {"type": "text", "font": "Open Sans", "fontSize": 26, "color": "#222222", "baseline": "middle"},
                             "encoding": {"x": {"field": "t", "type": "quantitative", "scale": {"domain": [-0.0265, 1.038], "nice": false, "zero": false}, "axis": {"values": [0.01, 0.76], "labelExpr": "datum.value < 0.5 ? 'Pre' : 'Post'", "title": null, "domain": false, "ticks": false, "grid": false, "labelFlush": false, "labelFontSize": 19, "labelFontWeight": 600, "labelColor": "#222222", "labelPadding": 6}}, "text": {"field": "label"}}}
                          ]
                        },
                        {
                          "width": 362, "height": 510,
                          "view": {"fill": "#ffffff", "stroke": null},
                          "encoding": {"y": {"field": "v", "type": "quantitative", "scale": {"domain": [-16, 669], "nice": false, "zero": false},
                            "axis": {"values": [0, 200, 400, 600], "title": null, "grid": true, "gridColor": "#e6ecf1", "gridWidth": 1.5, "domain": false, "ticks": false, "labels": false}}},
                          "layer": [
                            {"data": {"values": [
                              {"id": 1, "t": 0, "v": 657}, {"id": 1, "t": 1, "v": 0},
                              {"id": 2, "t": 0, "v": 607}, {"id": 2, "t": 1, "v": 0},
                              {"id": 3, "t": 0, "v": 419}, {"id": 3, "t": 1, "v": 0},
                              {"id": 4, "t": 0, "v": 388}, {"id": 4, "t": 1, "v": 0},
                              {"id": 5, "t": 0, "v": 348}, {"id": 5, "t": 1, "v": 0},
                              {"id": 6, "t": 0, "v": 328}, {"id": 6, "t": 1, "v": 0},
                              {"id": 7, "t": 0, "v": 322}, {"id": 7, "t": 1, "v": 0},
                              {"id": 8, "t": 0, "v": 287}, {"id": 8, "t": 1, "v": 0},
                              {"id": 9, "t": 0, "v": 263}, {"id": 9, "t": 1, "v": 0},
                              {"id": 10, "t": 0, "v": 260}, {"id": 10, "t": 1, "v": 0},
                              {"id": 11, "t": 0, "v": 203}, {"id": 11, "t": 1, "v": 0},
                              {"id": 12, "t": 0, "v": 190}, {"id": 12, "t": 1, "v": 0},
                              {"id": 13, "t": 0, "v": 123}, {"id": 13, "t": 1, "v": 0},
                              {"id": 14, "t": 0, "v": 96}, {"id": 14, "t": 1, "v": 0}
                            ]},
                             "mark": {"type": "line", "color": "#1d3a55", "strokeWidth": 2},
                             "encoding": {"x": {"field": "t", "type": "quantitative", "scale": {"domain": [-0.0265, 1.038], "nice": false, "zero": false}, "axis": {"values": [0.25, 0.88], "labelExpr": "datum.value < 0.5 ? 'Pre' : 'Post'", "title": null, "domain": false, "ticks": false, "grid": false, "labelFlush": false, "labelFontSize": 19, "labelFontWeight": 600, "labelColor": "#222222", "labelPadding": 6}}, "detail": {"field": "id"}}},
                            {"data": {"values": [{"v": 40}]}, "mark": {"type": "rule", "color": "#d8304e", "strokeWidth": 2}, "encoding": {}},
                            {"data": {"values": [{"t": -0.005, "v": 577}, {"t": -0.005, "v": 244}, {"t": -0.005, "v": 135}]},
                             "mark": {"type": "text", "text": "*", "fontSize": 16, "fontWeight": "bold", "color": "#111111", "baseline": "middle"},
                             "encoding": {"x": {"field": "t", "type": "quantitative", "scale": {"domain": [-0.0265, 1.038], "nice": false, "zero": false}, "axis": {"values": [0.25, 0.88], "labelExpr": "datum.value < 0.5 ? 'Pre' : 'Post'", "title": null, "domain": false, "ticks": false, "grid": false, "labelFlush": false, "labelFontSize": 19, "labelFontWeight": 600, "labelColor": "#222222", "labelPadding": 6}}}},
                            {"data": {"values": [{"t": 0.76, "v": 542, "label": "p<0.001"}]},
                             "mark": {"type": "text", "font": "Open Sans", "fontSize": 26, "color": "#222222", "baseline": "middle"},
                             "encoding": {"x": {"field": "t", "type": "quantitative", "scale": {"domain": [-0.0265, 1.038], "nice": false, "zero": false}, "axis": {"values": [0.25, 0.88], "labelExpr": "datum.value < 0.5 ? 'Pre' : 'Post'", "title": null, "domain": false, "ticks": false, "grid": false, "labelFlush": false, "labelFontSize": 19, "labelFontWeight": 600, "labelColor": "#222222", "labelPadding": 6}}, "text": {"field": "label"}}}
                          ]
                        }
                      ], "spacing": 14}
                    ], "spacing": 0}
                  ], "spacing": 0
                }
              ], "spacing": 0
            }
          ], "spacing": 0
        },
        {
          "hconcat": [
            {"width": 144, "height": 1250, "data": {"values": [{}]}, "mark": {"type": "text", "text": "", "fontSize": 1}, "view": {"fill": "#ffffff", "stroke": null}},
            {"vconcat": [
              {"width": 26, "height": 257, "data": {"values": [{}]}, "mark": {"type": "text", "text": "", "fontSize": 1}, "view": {"fill": "#1b4aa6", "stroke": null}},
              {"width": 26, "height": 8, "data": {"values": [{}]}, "mark": {"type": "text", "text": "", "fontSize": 1}, "view": {"fill": "#cfcfcf", "stroke": null}},
              {"width": 26, "height": 985, "data": {"values": [{}]}, "mark": {"type": "text", "text": "", "fontSize": 1}, "view": {"fill": "#ffffff", "stroke": null}}
            ], "spacing": 0}
          ], "spacing": 0
        }
      ], "spacing": 0
    },
    {
      "width": 2048, "height": 286,
      "view": {"fill": "#ffffff", "stroke": null},
      "data": {"values": [
        {"col": 0, "line": 0, "text": "Fig. 3  Serum albumin (a), total protein (b), and fibrinogen (c) con-"},
        {"col": 0, "line": 1, "text": "centrations, and urine protein excretion (d) pre- and post-unilateral and"},
        {"col": 0, "line": 2, "text": "bilateral nephrectomy. Horizontal Lower reference ranges for serum"},
        {"col": 0, "line": 3, "text": "tgroup1albumin and total protein (31 and 61 g/l, respectively), upper"},
        {"col": 0, "line": 4, "text": "range for fibrinogen (4.0 g/L), and definition of nephrotic range pro-"},
        {"col": 0, "line": 5, "text": "teinuria (40 mg/m²/h). Analyses were performed with Wilcoxon signed-"},
        {"col": 1, "line": 0, "text": "rank test. In cases of sequential nephrectomies, an asterisk indicates"},
        {"col": 1, "line": 1, "text": "measurements before/after the first (unilateral) and before/after the second"},
        {"col": 1, "line": 2, "text": "procedure (bilateral nephrectomy). Note that the majority of patients"},
        {"col": 1, "line": 3, "text": "undergoing unilateral nephrectomy had large proteinuria, but also poly-"},
        {"col": 1, "line": 4, "text": "uria or other risk factors leading to kidney removal"}
      ]},
      "mark": {"type": "text", "font": "Liberation Serif", "fontSize": 33, "color": "#1a1a1a", "align": "left", "baseline": "middle"},
      "encoding": {
        "x": {"field": "col", "type": "quantitative", "scale": {"domain": [-0.03635, 1.97544], "nice": false, "zero": false}, "axis": null},
        "y": {"field": "line", "type": "quantitative", "scale": {"domain": [-1.688, 5.516], "reverse": true, "nice": false, "zero": false}, "axis": null},
        "text": {"field": "text"}
      }
    }
  ]
}
